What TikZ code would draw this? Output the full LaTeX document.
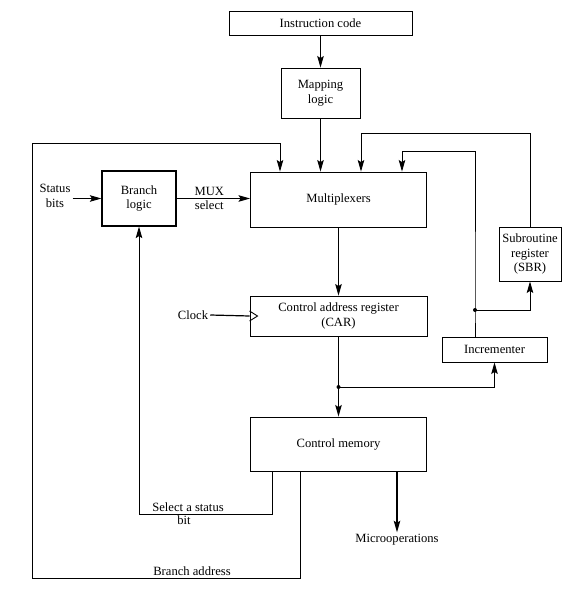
\documentclass[tikz,border=0pt]{standalone}
\usepackage{fontspec}
\setmainfont{Liberation Serif}
\usetikzlibrary{arrows.meta}

\tikzset{
	block/.style={draw,line width=0.9pt,align=center,inner sep=0pt,font=\fontsize{12.6}{14.5}\selectfont},
	txt/.style={align=center,inner sep=2pt,font=\fontsize{12.6}{14.5}\selectfont},
	wire/.style={line width=0.9pt},
	arr/.style={wire,-{Stealth[length=11.5pt,width=6.5pt,inset=2pt]}}
}

\begin{document}
\begin{tikzpicture}[x=1pt,y=-1pt]
	\useasboundingbox (0,0) rectangle (572,589);
	
	% boxes
	\node[block,minimum width=183,minimum height=24] (instr) at (320.5,23) {Instruction code};
	\node[block,minimum width=79,minimum height=50] (map) at (320.5,93) {Mapping\\logic};
	\node[block,minimum width=176,minimum height=55] (mux) at (338.5,199.5) {Multiplexers};
	\node[block,minimum width=74,minimum height=55,line width=1.2pt] (branch) at (139,198.5) {Branch\\logic};
	\node[block,minimum width=62,minimum height=54] (sbr) at (530,254) {Subroutine\\register\\(SBR)};
	\node[block,minimum width=177,minimum height=40] (car) at (338.5,316) {Control address register\\(CAR)};
	\node[block,minimum width=105,minimum height=25] (inc) at (494.5,349.5) {Incrementer};
	\node[block,minimum width=176,minimum height=54] (cm) at (338.5,444) {Control memory};
	
	% free texts
	\node[txt] (status) at (55,196) {Status\\bits};
	\node[txt] (clock) at (193,315) {Clock};
	\node[txt] (micro) at (397,540) {Microoperations};
	\node[txt,anchor=south] (sellbl) at (188,514) {Select a status};
	\node[txt,anchor=north] (bitlbl) at (184,514) {bit};
	\node[txt,anchor=south] (balbl) at (192,578) {Branch address};
	
	% corner points
	\coordinate (jcar) at (338.5,387);
	\coordinate (jinc) at (475,310);
	\coordinate (sbrloop) at (361,133);
	\coordinate (incloop) at (402,151);
	\coordinate (baloop) at (280,143);
	\coordinate (bacorner) at (32,578);
	\coordinate (selcorner) at (139,514);
	
	% top path
	\draw[arr] (instr) -- (map);
	\draw[arr] (map.south) -- (map.south |- mux.north);
	
	% branch logic
	\draw[arr,line width=1.1pt] (status.east |- branch.west) -- (branch.west);
	\draw[arr,line width=1.1pt] (branch.east) -- (branch.east -| mux.west)
		node[txt,midway,above,xshift=-4pt] (muxlbl) {MUX}
		node[txt,midway,below,xshift=-4pt] (sellbl2) {select};
	
	% multiplexers to memory
	\draw[arr] (mux) -- (car);
	\draw[arr,line width=1.2pt] (car) -- (cm);
	\fill (jcar) circle (2pt);
	\draw[arr] (jcar) -| (inc.south);
	\draw[arr,line width=1.2pt] (cm.south -| micro.north) -- (micro.north);
	
	% clock input
	\draw[wire,line width=1.2pt] (clock.east) -- (car.west);
	\draw[wire] ([yshift=5pt]car.west) -- ([xshift=8pt]car.west) -- ([yshift=-5pt]car.west);
	
	% incrementer and subroutine loops
	\fill (jinc) circle (2pt);
	\draw[arr] (inc.north -| jinc) -- (jinc) |- (incloop) -- (incloop |- mux.north);
	\draw[arr] (jinc) -| (sbr.south);
	\draw[arr] (sbr.north) |- (sbrloop) -- (sbrloop |- mux.north);
	
	% feedback from control memory
	\draw[arr] ([xshift=-66.5pt]cm.south) |- (selcorner) -- (selcorner |- branch.south);
	\draw[arr] ([xshift=-38.5pt]cm.south) |- (bacorner) |- (baloop) -- (baloop |- mux.north);
	
\end{tikzpicture}
\end{document}
